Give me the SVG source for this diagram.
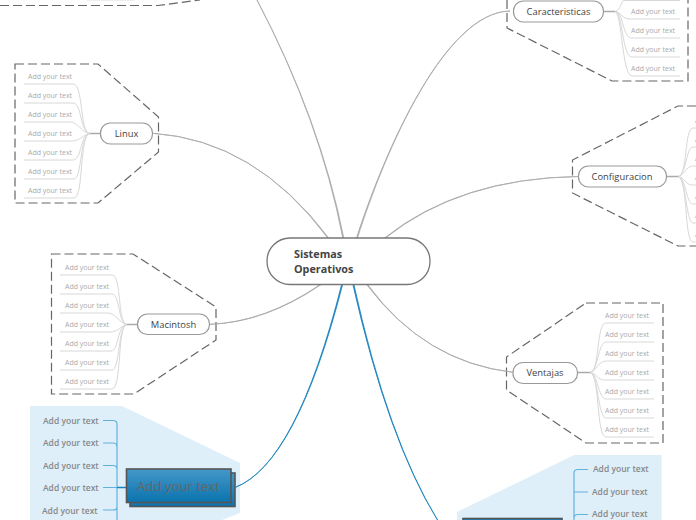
<svg xmlns="http://www.w3.org/2000/svg" width="696" height="520" viewBox="0 0 696 520">
<defs>
<linearGradient id="blue" x1="0" y1="0" x2="0" y2="1"><stop offset="0" stop-color="#4598c8"/><stop offset="1" stop-color="#0a73ae"/></linearGradient>
</defs>
<style>
text{font-family:"Open Sans","Noto Sans","Liberation Sans",sans-serif}
.hull{fill:#fff;stroke:#666;stroke-width:1.2;stroke-dasharray:9 4}
.bh{fill:#deeffa;stroke:none}
.main{fill:#aaa;stroke:#aaa;stroke-width:.8}
.bm{fill:#1a83bd;stroke:#1a83bd;stroke-width:.8}
.node{fill:#fff;stroke:#999;stroke-width:1.2}
.nt{font-size:9.400px;fill:#444;text-anchor:middle}
.st{font-size:7px;fill:#aaa}
.sl{fill:none;stroke:#d8d8d8;stroke-width:1}
.hub{fill:none;stroke:#aaa;stroke-width:1.5}
.bt{font-size:8.500px;fill:#888;font-weight:600}
.bl{fill:none;stroke:#62b2de;stroke-width:1.2}
.bn{fill:url(#blue);stroke:#555;stroke-width:1.6}
</style>
<g id="top-left">
<path class="hull" d="M0,5.500H158L200,0"/>
<path d="M87,0H135" stroke="#ddd" fill="none"/>
</g>
<g id="linux">
<path class="hull" d="M15,64H98L158.500,117V152L98,203H15Z"/>
<path class="sl" d="M24,84H73C84,84 79,133 90,133.500M24,103H73C82,103 80,133 90,133.500M24,122H70C78,122 82,133 90,133.500M24,141H72C80,141 84,134 90,133.500M24,160H73C82,160 80,134 90,133.500M24,179H74C82,179 80,134 90,133.500M24,198H74C84,198 79,134 90,133.500"/>
<path class="hub" d="M90,133.500H100"/>
<rect class="node" x="100.500" y="123" width="52" height="21" rx="10"/>
<text class="nt" x="126.500" y="137">Linux</text>
<g class="st"><text x="28" y="79">Add your text</text><text x="28" y="98">Add your text</text><text x="28" y="117">Add your text</text><text x="28" y="136">Add your text</text><text x="28" y="155">Add your text</text><text x="28" y="174">Add your text</text><text x="28" y="193">Add your text</text></g>
</g>
<g id="macintosh">
<path class="hull" d="M51.500,254H133L216,307V340L134,394H51.500Z"/>
<path class="sl" d="M60,275H112C122,275 117,324 127,324.500M60,294H112C120,294 118,324 127,324.500M60,313H108C116,313 120,324 127,324.500M60,332H110C118,332 122,325 127,324.500M60,351H111C119,351 117,325 127,324.500M60,370H112C120,370 118,325 127,324.500M60,389H112C122,389 117,325 127,324.500"/>
<path class="hub" d="M127,324.500H137"/>
<rect class="node" x="137.500" y="314" width="72" height="20.500" rx="10"/>
<text class="nt" x="173.500" y="328">Macintosh</text>
<g class="st"><text x="65" y="270">Add your text</text><text x="65" y="289">Add your text</text><text x="65" y="308">Add your text</text><text x="65" y="327">Add your text</text><text x="65" y="346">Add your text</text><text x="65" y="365">Add your text</text><text x="65" y="384">Add your text</text></g>
</g>
<g id="caracteristicas">
<path class="hull" d="M507,0V28L612,81H688V0"/>
<path class="sl" d="M680,0.500H624C620,1 622,10 615,11.500M680,19H630C622,19 621,12 615,11.500M680,38H632C622,38 624,12 615,11.500M680,57H632C622,57 623,12 615,11.500M680,76H632C622,76 622,12 615,11.500"/>
<path class="hub" d="M603,11.500H615"/>
<rect class="node" x="513.500" y="1" width="90" height="21" rx="10"/>
<text class="nt" x="558.500" y="15">Caracteristicas</text>
<g class="st"><text x="631" y="14">Add your text</text><text x="631" y="33">Add your text</text><text x="631" y="52">Add your text</text><text x="631" y="71">Add your text</text></g>
</g>
<g id="configuracion">
<path class="hull" d="M696,106H678L572.500,160V193L678,246H696"/>
<path class="sl" d="M696,128H693C684,128 688,176 678,176.500M696,147H693C686,147 686,176 678,176.500M696,166H693C686,166 684,176 678,176.500M696,185H692C686,185 684,177 678,176.500M696,204H693C686,204 686,177 678,176.500M696,223H693C686,223 686,177 678,176.500M696,242H693C684,242 688,177 678,176.500"/>
<path class="hub" d="M666,176.500H678"/>
<rect class="node" x="578.500" y="166" width="88" height="21" rx="10"/>
<text class="nt" x="622" y="180">Configuracion</text>
<g class="st"><text x="695" y="123">Add your text</text><text x="695" y="142">Add your text</text><text x="695" y="161">Add your text</text><text x="695" y="180">Add your text</text><text x="695" y="199">Add your text</text><text x="695" y="218">Add your text</text><text x="695" y="237">Add your text</text></g>
</g>
<g id="ventajas">
<path class="hull" d="M586,303H663V443H586L506.500,390V357Z"/>
<path class="sl" d="M654,323H606C596,323 600,372 590,372.500M654,342H606C598,342 598,372 590,372.500M654,361H606C598,361 596,372 590,372.500M654,380H604C598,380 596,373 590,372.500M654,399H606C598,399 598,373 590,372.500M654,418H606C598,418 598,373 590,372.500M654,437H606C596,437 600,373 590,372.500"/>
<path class="hub" d="M577,372.500H590"/>
<rect class="node" x="513" y="362.500" width="64.500" height="21" rx="10"/>
<text class="nt" x="545" y="376">Ventajas</text>
<g class="st"><text x="605" y="318">Add your text</text><text x="605" y="337">Add your text</text><text x="605" y="356">Add your text</text><text x="605" y="375">Add your text</text><text x="605" y="394">Add your text</text><text x="605" y="413">Add your text</text><text x="605" y="432">Add your text</text></g>
</g>
<g id="blue-left">
<path class="bh" d="M30,406H122L240,463V513L222,520H30Z"/>
<path class="bl" d="M103,420.500H113Q117,420.500 117,424V520M103,443H113Q117,443 117,447M103,465.500H113Q117,465.500 117,469M103,487.500H117M103,510H113Q117,510 117,507"/>
<path d="M117,487.500H126" stroke="#1a83bd" stroke-width="1.500" fill="none"/>
<rect class="bn" x="130" y="473" width="105" height="33.500"/>
<rect class="bn" x="126.500" y="469" width="104.500" height="33.500"/>
<text x="178.500" y="490.500" font-size="13.200" fill="#666" text-anchor="middle">Add your text</text>
<g class="bt"><text x="43" y="423.500">Add your text</text><text x="43" y="445.500">Add your text</text><text x="43" y="468.500">Add your text</text><text x="43" y="490.500">Add your text</text><text x="42" y="513.500">Add your text</text></g>
</g>
<g id="blue-right">
<path class="bh" d="M574,455H661.500V520H457V512Z"/>
<path class="bl" d="M588,469.500H578Q574,469.500 574,473V520M588,492H574M588,514.500H578Q574,514.500 574,518"/>
<rect x="463" y="518.500" width="99" height="6" fill="#1a83bd" stroke="#555" stroke-width="1.600"/>
<g class="bt"><text x="593" y="471.500">Add your text</text><text x="592" y="494.500">Add your text</text><text x="592" y="516.500">Add your text</text></g>
</g>
<g id="connectors">
<path class="main" d="M327.700,238Q255,140 153,133.300Q255,140.400 328.700,238Z"/>
<path class="main" d="M342.800,238Q320,120 257,0Q320.300,120 343.800,238Z"/>
<path class="main" d="M356.500,238C385,150 445,12 510,11C445,12.300 385.400,150 357.500,238Z"/>
<path class="main" d="M384.500,238Q460,178 578,176.500Q460,178.500 385.500,238Z"/>
<path class="main" d="M367,285Q425,362 513,372.300Q425,362.600 368,285Z"/>
<path class="main" d="M319.500,285Q265,322 210,324.300Q265,322.600 320.500,285Z"/>
<path class="bm" d="M341.500,285Q296,464 235,487.500Q296.400,464 342.500,285Z"/>
<path class="bm" d="M353,285Q388,440 437.500,520Q388.400,440 354,285Z"/>
</g>
<g id="center">
<rect x="267" y="238" width="163" height="46.500" rx="23" fill="#fff" stroke="#777" stroke-width="1.300"/>
<text font-size="10.800" font-weight="700" fill="#444"><tspan x="294" y="258">Sistemas</tspan><tspan x="294" y="273">Operativos</tspan></text>
</g>
</svg>
